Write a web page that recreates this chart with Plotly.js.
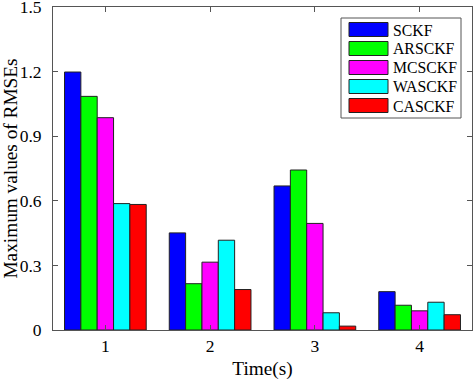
<!DOCTYPE html>
<html><head><meta charset="utf-8">
<script src="https://cdn.plot.ly/plotly-3.0.1.min.js"></script>
<style>html,body{margin:0;padding:0;background:#fff}#c{width:474px;height:382px}</style>
</head><body><div id="c"></div>
<script>
const times = [1, 2, 3, 4];
const seriesNames = ["SCKF", "ARSCKF", "MCSCKF", "WASCKF", "CASCKF"];
const sckf   = [1.198, 0.451, 0.669, 0.178];
const arsckf = [1.085, 0.215, 0.743, 0.115];
const mcsckf = [0.986, 0.315, 0.495, 0.089];
const wasckf = [0.587, 0.417, 0.080, 0.129];
const casckf = [0.583, 0.188, 0.018, 0.071];
const colors = ["#0000ff", "#00ff00", "#ff00ff", "#00ffff", "#ff0000"];
const yTicks = [0, 0.3, 0.6, 0.9, 1.2, 1.5];
const yTickText = ["0", "0.3", "0.6", "0.9", "1.2", "1.5"];

const allSeries = [sckf, arsckf, mcsckf, wasckf, casckf];
const traces = allSeries.map((vals, i) => ({
  type: 'bar', x: times, y: vals, name: seriesNames[i],
  marker: {color: colors[i], line: {color: '#222', width: 1}}
}));
const fam = 'Liberation Serif, Times New Roman, serif';
const f = (s) => ({family: fam, size: s, color: '#000'});

const W = 474, H = 382;
const M = {l: 53, r: 2, t: 7, b: 52};
const pw = W - M.l - M.r, ph = H - M.t - M.b;
const px = (x) => (x - M.l) / pw;
const py = (y) => (H - M.b - y) / ph;

// Legend drawn in paper coordinates (MATLAB style with wide swatches)
const shapes = [{
  type: 'rect', xref: 'paper', yref: 'paper',
  x0: px(341), x1: px(461), y0: py(118), y1: py(18),
  fillcolor: '#fff', line: {color: '#555', width: 1}, layer: 'above'
}];
const annotations = [];
seriesNames.forEach((name, i) => {
  const cy = 29.5 + i * 19;
  shapes.push({
    type: 'rect', xref: 'paper', yref: 'paper',
    x0: px(349), x1: px(388), y0: py(cy + 7), y1: py(cy - 7),
    fillcolor: colors[i], line: {color: '#222', width: 1}, layer: 'above'
  });
  annotations.push({
    xref: 'paper', yref: 'paper', x: px(391), y: py(cy + 0.5),
    xanchor: 'left', yanchor: 'middle', showarrow: false,
    text: name, font: f(15.75)
  });
});

const layout = {
  width: W, height: H, margin: M,
  paper_bgcolor: '#fff', plot_bgcolor: '#fff',
  barmode: 'group', bargap: 0.22, bargroupgap: 0,
  font: f(17.5),
  xaxis: {
    range: [0.5, 4.5], tickvals: times, ticktext: times.map(String),
    ticks: 'inside', ticklen: 5, tickcolor: '#555',
    showline: true, linecolor: '#555', linewidth: 1, mirror: 'ticks',
    showgrid: false, zeroline: false, ticklabeloverflow: 'allow',
    ticklabelstandoff: 0,
    tickfont: f(17.5),
    title: {text: 'Time(s)', font: f(19.3), standoff: 6}
  },
  yaxis: {
    range: [0, 1.5], tickvals: yTicks, ticktext: yTickText,
    ticks: 'inside', ticklen: 5, tickcolor: '#555',
    showline: true, linecolor: '#555', linewidth: 1, mirror: 'ticks',
    showgrid: false, zeroline: false, ticklabeloverflow: 'allow',
    ticklabelstandoff: 7,
    tickfont: f(17.5),
    title: {text: 'Maximum values of RMSEs', font: f(19.3), standoff: 4}
  },
  showlegend: false,
  shapes: shapes,
  annotations: annotations
};
Plotly.newPlot('c', traces, layout, {staticPlot: true, displayModeBar: false});
</script></body></html>
